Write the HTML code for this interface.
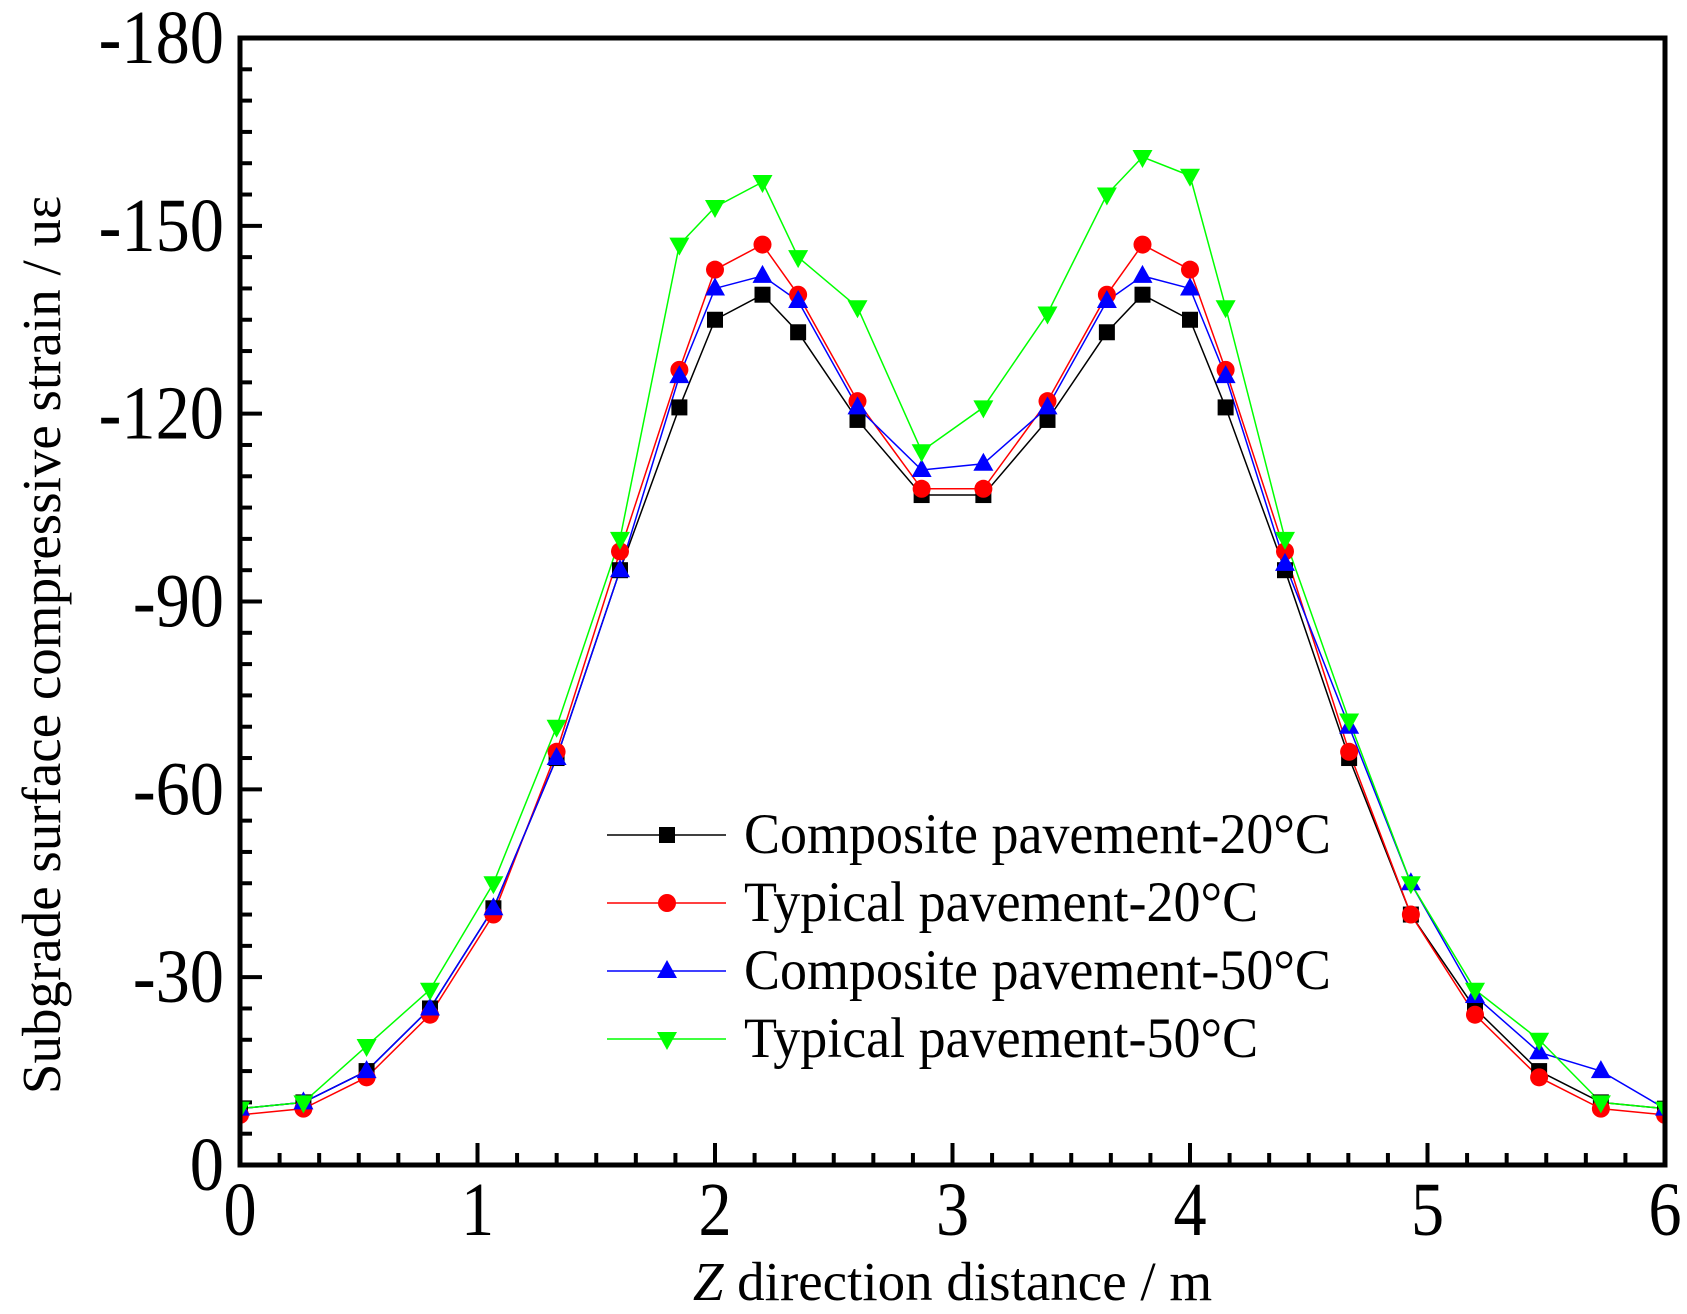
<!DOCTYPE html>
<html><head><meta charset="utf-8"><style>
html,body{margin:0;padding:0;background:#fff;}
svg{display:block;}
text{font-family:"Liberation Serif",serif;fill:#000;}
</style></head><body>
<svg id="s" width="1687" height="1314" viewBox="0 0 1687 1314" xmlns="http://www.w3.org/2000/svg"></svg>
<script>
const s=document.getElementById('s');
const L=240,R=1665,T=38,B=1165;
const X=z=>L+z*(R-L)/6, Y=v=>B-v*(B-T)/180;
let h='';
for(let i=0;i<=36;i++){const x=X(i/6);const len=i%6==0?22:12;h+=`<line x1="${x}" y1="${B}" x2="${x}" y2="${B-len}" stroke="#000" stroke-width="4"/>`;}
for(let i=0;i<=36;i++){const y=Y(i*5);const len=i%6==0?22:12;h+=`<line x1="${L}" y1="${y}" x2="${L+len}" y2="${y}" stroke="#000" stroke-width="4"/>`;}
for(let i=0;i<=6;i++){h+=`<text transform="translate(${X(i)},${B+70}) scale(0.92,1.06)" font-size="72" text-anchor="middle">${i}</text>`;}
for(let i=0;i<=6;i++){const v=i*30;h+=`<text transform="translate(${L-16},${Y(v)+25}) scale(0.95,1.06)" font-size="72" text-anchor="end">${v==0?'0':'-'+v}</text>`;}
h+=`<text x="${(L+R)/2}" y="1300" font-size="55" text-anchor="middle"><tspan font-style="italic">Z</tspan> direction distance / m</text>`;
h+=`<text transform="translate(60,645) rotate(-90)" font-size="55" text-anchor="middle">Subgrade surface compressive strain / uε</text>`;
const xs=[0,0.267,0.533,0.8,1.067,1.333,1.6,1.85,2.0,2.2,2.35,2.6,2.87,3.13,3.4,3.65,3.8,4.0,4.15,4.4,4.67,4.93,5.2,5.47,5.73,6];
const S=[
 {c:'#000',m:'sq',d:[9,10,15,25,41,65,95,121,135,139,133,119,107,107,119,133,139,135,121,95,65,40,25,15,10,9]},
 {c:'#f00',m:'ci',d:[8,9,14,24,40,66,98,127,143,147,139,122,108,108,122,139,147,143,127,98,66,40,24,14,9,8]},
 {c:'#00f',m:'up',d:[9,10,15,25,41,65,95,126,140,142,138,121,111,112,121,138,142,140,126,96,70,45,27,18,15,9]},
 {c:'#0f0',m:'dn',d:[9,10,19,28,45,70,100,147,153,157,145,137,114,121,136,155,161,158,137,100,71,45,28,20,10,9]}];
function mk(t,x,y,c){
 if(t=='sq')return `<rect x="${x-8}" y="${y-8}" width="16" height="16" fill="${c}"/>`;
 if(t=='ci')return `<circle cx="${x}" cy="${y}" r="9" fill="${c}"/>`;
 if(t=='up')return `<polygon points="${x},${y-11} ${x-10},${y+7} ${x+10},${y+7}" fill="${c}"/>`;
 return `<polygon points="${x},${y+11} ${x-10},${y-7} ${x+10},${y-7}" fill="${c}"/>`;
}
h+=`<defs><clipPath id="c"><rect x="${L}" y="${T}" width="${R-L}" height="${B-T}"/></clipPath></defs><g clip-path="url(#c)">`;
S.forEach(o=>{h+=`<polyline fill="none" stroke="${o.c}" stroke-width="1.5" points="${xs.map((z,i)=>X(z)+','+Y(o.d[i])).join(' ')}"/>`;});
S.forEach(o=>{xs.forEach((z,i)=>{h+=mk(o.m,X(z),Y(o.d[i]),o.c);});});
h+='</g>';
const names=['Composite pavement-20°C','Typical pavement-20°C','Composite pavement-50°C','Typical pavement-50°C'];
S.forEach((o,i)=>{const y=835+i*68;h+=`<line x1="607" y1="${y}" x2="726" y2="${y}" stroke="${o.c}" stroke-width="1.5"/>`+mk(o.m,667,y,o.c)+`<text transform="translate(744,${y+18}) scale(1,1.05)" font-size="54">${names[i]}</text>`;});
h+=`<rect x="${L}" y="${T}" width="${R-L}" height="${B-T}" fill="none" stroke="#000" stroke-width="5"/>`;
s.innerHTML=h;
</script>
</body></html>
